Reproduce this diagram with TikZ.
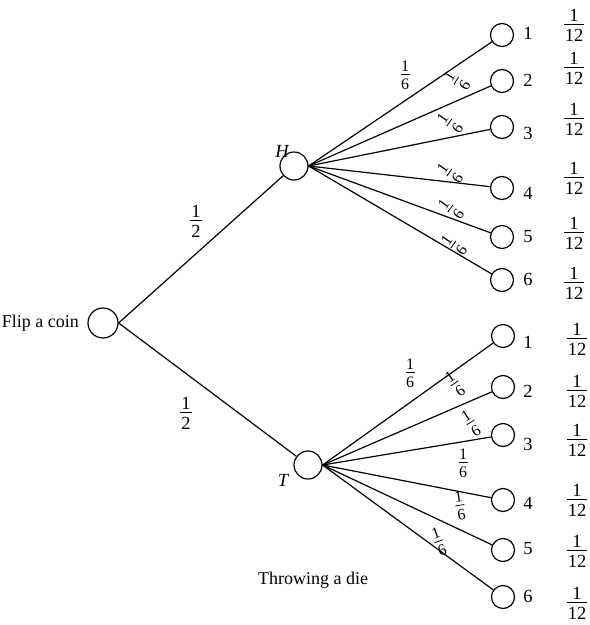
\documentclass[tikz,border=0pt]{standalone}
\usepackage{fontspec}
\setmainfont{Liberation Serif}
\newcommand{\myfr}[2]{{\setlength{\arrayrulewidth}{0.9pt}\def\arraystretch{0}%
  \begin{tabular}{@{\kern1pt}c@{\kern1pt}}\rule[-3pt]{0pt}{16pt}#1\\\hline\rule{0pt}{17pt}#2\end{tabular}}}
\newcommand{\mysfr}[2]{{\setlength{\arrayrulewidth}{0.8pt}\def\arraystretch{0}%
  \begin{tabular}{@{\kern0.5pt}c@{\kern0.5pt}}\rule[-2.5pt]{0pt}{13pt}#1\\\hline\rule{0pt}{14.5pt}#2\end{tabular}}}
\begin{document}
\begin{tikzpicture}[x=1pt,y=-1pt,
  rootc/.style={circle,draw,line width=1.2pt,minimum size=30pt,inner sep=0pt},
  midc/.style={circle,draw,line width=1.2pt,minimum size=28pt,inner sep=0pt},
  leafc/.style={circle,draw,line width=1.2pt,minimum size=23pt,inner sep=0pt},
  edge/.style={line width=1.2pt},
  txt/.style={font=\fontsize{18}{20}\selectfont,inner sep=0pt},
  num/.style={font=\fontsize{18.5}{20}\selectfont,inner sep=0pt},
  prob/.style={font=\fontsize{18.5}{20}\selectfont,inner sep=0pt},
  half/.style={font=\fontsize{18.5}{20}\selectfont,inner sep=0pt},
  sixth/.style={font=\fontsize{16}{18}\selectfont,inner sep=0pt}]
\useasboundingbox (0,0) rectangle (590,625);
% main nodes
\node[rootc] (R) at (103,323) {};
\node[midc] (H) at (294,166) {};
\node[midc] (T) at (308,465) {};
\node[txt,anchor=east] (flip) at (79,323) {Flip a coin};
\node[txt,font=\fontsize{18.5}{20}\selectfont\itshape] (hl) at (282,151) {H};
\node[txt,font=\fontsize{18.5}{20}\selectfont\itshape] (tl) at (283,480) {T};
\node[txt] (die) at (313,580) {Throwing a die};
\draw[edge] (R.east) -- (H);
\draw[edge] (R.east) -- (T);
\node[half] (hh) at (196,221) {\myfr{1}{2}};
\node[half] (ht) at (186,413) {\myfr{1}{2}};
% H leaves
\foreach \i/\y/\ny/\py in {1/35/33/25, 2/81/80/68, 3/127/133/119, 4/188/193/178, 5/237/237/233, 6/280/279/283}{
  \node[leafc] (h\i) at (502,\y) {};
  \node[num] (hn\i) at (528,\ny) {\i};
  \node[prob] (hp\i) at (574,\py) {\myfr{1}{12}};
  \draw[edge] (H.east) -- (h\i);
}
% T leaves
\foreach \i/\y/\ny/\py in {1/336/342/339, 2/387/391/391, 3/435/444/440, 4/500/503/500, 5/550/549/551, 6/597/596/603}{
  \node[leafc] (t\i) at (503,\y) {};
  \node[num] (tn\i) at (528,\ny) {\i};
  \node[prob] (tp\i) at (577,\py) {\myfr{1}{12}};
  \draw[edge] (T.east) -- (t\i);
}
% edge labels, H group
\node[sixth] (hs1) at (405,75) {\mysfr{1}{6}};
\node[sixth,rotate=58] (hs2) at (457,81) {\mysfr{1}{6}};
\node[sixth,rotate=55] (hs3) at (450,123) {\mysfr{1}{6}};
\node[sixth,rotate=55] (hs4) at (450,173) {\mysfr{1}{6}};
\node[sixth,rotate=55] (hs5) at (451,209) {\mysfr{1}{6}};
\node[sixth,rotate=55] (hs6) at (454,245) {\mysfr{1}{6}};
% edge labels, T group
\node[sixth] (ts1) at (410,373) {\mysfr{1}{6}};
\node[sixth,rotate=35] (ts2) at (455,384) {\mysfr{1}{6}};
\node[sixth,rotate=33] (ts3) at (471,423) {\mysfr{1}{6}};
\node[sixth] (ts4) at (463,463) {\mysfr{1}{6}};
\node[sixth,rotate=9] (ts5) at (460,506) {\mysfr{1}{6}};
\node[sixth,rotate=20] (ts6) at (439,542) {\mysfr{1}{6}};
\end{tikzpicture}
\end{document}
